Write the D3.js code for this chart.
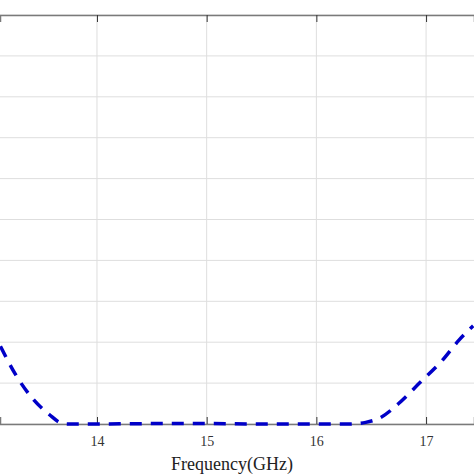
<!DOCTYPE html>
<html><head><meta charset="utf-8">
<script src="https://cdn.jsdelivr.net/npm/d3@7"></script>
<style>body{margin:0;background:#fff}</style>
</head><body><div id="chart"></div>
<script>
const freq = [13.12, 13.26, 13.42, 13.57, 13.66, 13.73, 14.0, 14.5, 15.0, 15.5, 16.0, 16.3, 16.45, 16.58, 16.75, 16.94, 17.15, 17.3, 17.43];
const vals = [0.19, 0.12, 0.06, 0.022, 0.004, 0.0, 0.0, 0.001, 0.001, 0.0, 0.0, 0.0, 0.004, 0.015, 0.05, 0.10, 0.156, 0.205, 0.24];
const xTicks = [14, 15, 16, 17];

const W = 474, H = 474;
const margin = { top: 15, right: 0, bottom: 50, left: 0 };

const x = d3.scaleLinear().domain([13.116, 17.437]).range([margin.left, W - margin.right]);
const y = d3.scaleLinear().domain([0, 1]).range([H - margin.bottom, margin.top]);

const svg = d3.select("#chart").append("svg").attr("width", W).attr("height", H);

// grid
svg.append("g").selectAll("line.gx").data(xTicks).enter().append("line")
    .attr("x1", d => x(d)).attr("x2", d => x(d))
    .attr("y1", y(0)).attr("y2", y(1))
    .style("stroke", "#dedede").style("stroke-width", 1);
svg.append("g").selectAll("line.gy").data(y.ticks(10)).enter().append("line")
    .attr("x1", x.range()[0]).attr("x2", x.range()[1])
    .attr("y1", d => y(d)).attr("y2", d => y(d))
    .style("stroke", "#dedede").style("stroke-width", 1);

// bottom and top axes
const axisB = svg.append("g").attr("transform", `translate(0,${y(0)})`)
    .call(d3.axisBottom(x).tickValues(xTicks).tickSize(-7).tickPadding(12).tickFormat(d3.format("d")));
const axisT = svg.append("g").attr("transform", `translate(0,${y(1)})`)
    .call(d3.axisTop(x).tickValues(xTicks).tickSize(-7).tickFormat(""));
[axisB, axisT].forEach(g => {
    g.select(".domain").style("stroke", "#7a7a7a").style("stroke-width", 1.5);
    g.selectAll(".tick line").style("stroke", "#333");
    g.selectAll("text").style("font-family", "Liberation Serif").style("font-size", "14px").style("fill", "#333");
});

// curve
const line = d3.line().x((d, i) => x(freq[i])).y(d => y(d)).curve(d3.curveMonotoneX);
svg.append("path").datum(vals).attr("d", line)
    .style("fill", "none").style("stroke", "#0000c8")
    .style("stroke-width", 3.5).style("stroke-dasharray", "12,9");

svg.append("text").attr("x", 232).attr("y", 470).attr("text-anchor", "middle")
    .style("font-family", "Liberation Serif").style("font-size", "18px").style("fill", "#222")
    .text("Frequency(GHz)");
</script></body></html>
